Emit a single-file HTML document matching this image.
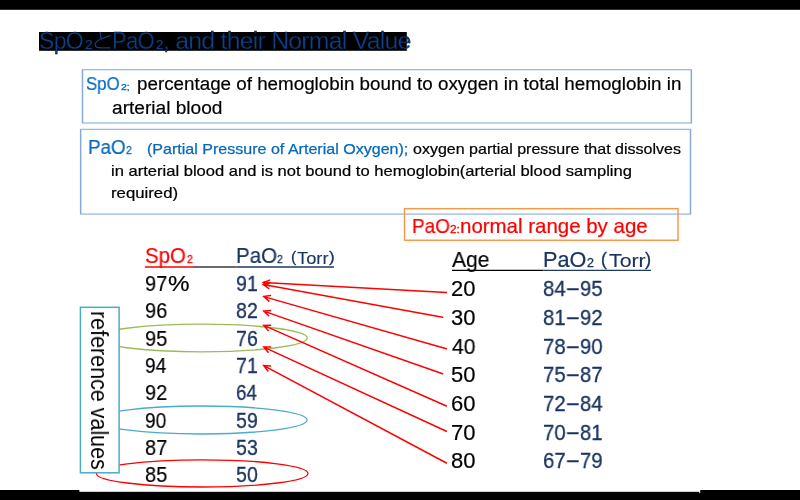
<!DOCTYPE html>
<html><head><meta charset="utf-8"><title>SpO2 and PaO2</title>
<style>
html,body{margin:0;padding:0;background:#fff;}
body{width:800px;height:500px;position:relative;overflow:hidden;font-family:"Liberation Sans",sans-serif;}
.t{position:absolute;white-space:nowrap;line-height:1;transform-origin:0 0;-webkit-text-stroke:0.2px;will-change:transform;}
svg{position:absolute;left:0;top:0;}
</style></head><body>
<svg width="800" height="500" viewBox="0 0 800 500" fill="none">
<g fill="#000">
<rect x="0" y="0" width="800" height="9.8"/>
<rect x="0" y="490" width="79.4" height="10"/>
<rect x="79" y="491.8" width="620.3" height="8.2"/>
<rect x="699" y="493.2" width="2" height="6.8"/>
<rect x="700.2" y="490" width="99.8" height="10"/>
<rect x="39" y="32" width="367.8" height="18.8"/>
</g>
<g stroke="#9ab8e1" stroke-width="1.3">
<rect x="82.5" y="69.7" width="608.9" height="53.3"/>
<rect x="80.6" y="129.4" width="609.9" height="84.7"/>
</g>
<g stroke="#86abdb" stroke-width="1.3">
<path d="M82.5 69.7V123M691.4 69.7V123M80.6 129.4V214.1M690.5 129.4V214.1"/>
</g>
<rect x="404.5" y="208.65" width="273.5" height="31.6" stroke="#f79646" stroke-width="1.4"/>
<g stroke-width="1.3">
<ellipse cx="201.5" cy="338" rx="105.8" ry="13.8" stroke="#9bbb59"/>
<ellipse cx="201.3" cy="420" rx="105.8" ry="14" stroke="#4bacc6"/>
<ellipse cx="202.2" cy="473.4" rx="105.8" ry="13.6" stroke="#ff0000"/>
</g>
<rect x="80.4" y="307.3" width="38.7" height="165.5" fill="#fff" stroke="#4bacc6" stroke-width="1.5"/>
<g stroke="#ff0000" stroke-width="1.5" stroke-linecap="round" stroke-linejoin="miter">
<path d="M446.4 292.4L263.3 282.6M269.3 285.8L263.3 282.6L269.6 280.1"/>
<path d="M442.6 317.3L263.3 284.6M268.8 288.5L263.3 284.6L269.9 282.9"/>
<path d="M446.4 348.7L263.8 296.6M268.9 301.1L263.8 296.6L270.5 295.5"/>
<path d="M442.6 373.7L263.8 311.1M268.7 315.8L263.8 311.1L270.6 310.4"/>
<path d="M446.4 406.0L263.8 325.4M268.3 330.5L263.8 325.4L270.6 325.3"/>
<path d="M446.4 431.2L263.8 347.1M268.2 352.3L263.8 347.1L270.6 347.1"/>
<path d="M446.4 463.0L263.8 365.6M267.9 371.0L263.8 365.6L270.6 366.0"/>
</g>
<g stroke-width="1.6">
<path d="M144.8 267H193" stroke="#ff0000"/>
<path d="M193 267H236.7" stroke="#3a3a3a"/>
<path d="M236.7 267H334" stroke="#1f3864"/>
<path d="M452 270.3H543.5" stroke="#000" stroke-width="1.3"/>
<path d="M543.5 270.4H651" stroke="#1f3864" stroke-width="1.4"/>
</g>
<path d="M100.2 32.4L101 39M110 35.6L101 39C97 40.6 95 43 95.3 45.4C95.6 47.5 97.5 47.9 100.5 47.9L110 47.9" stroke="#0c4089" stroke-width="1.25" stroke-linecap="round" stroke-linejoin="round"/>
</svg>

<span class="t" id="ti1" style="left:39.00px;top:30.00px;font-size:23px;color:#0c4089;transform:scaleX(1.0007);-webkit-text-stroke:0.3px #000;letter-spacing:-0.7px;">SpO</span>
<span class="t" id="ti1s" style="left:84.60px;top:38.00px;font-size:13px;color:#0c4089;transform:scaleX(1.0638);-webkit-text-stroke:0.25px;">2</span>
<span class="t" id="ti2" style="left:112.00px;top:30.00px;font-size:23px;color:#0c4089;transform:scaleX(0.9548);-webkit-text-stroke:0.3px #000;letter-spacing:-0.7px;">PaO</span>
<span class="t" id="ti2s" style="left:156.00px;top:38.00px;font-size:13px;color:#0c4089;transform:scaleX(1.0069);-webkit-text-stroke:0.25px;">2</span>
<span class="t" id="ti3" style="left:163.00px;top:30.00px;font-size:23px;color:#0c4089;transform:scaleX(1.0784);-webkit-text-stroke:0.3px #000;letter-spacing:-0.7px;">, and their Normal Value</span>
<span class="t" id="b1a" style="left:86.20px;top:76.00px;font-size:17.8px;color:#0569be;transform:scaleX(0.9467);">SpO</span>
<span class="t" id="b1as" style="left:120.60px;top:82.00px;font-size:9.75px;color:#0569be;transform:scaleX(1.0805);-webkit-text-stroke:0.3px;">2;</span>
<span class="t" id="b1b" style="left:137.00px;top:75.00px;font-size:18px;color:#000;transform:scaleX(1.0441);-webkit-text-stroke:0.2px;">percentage of hemoglobin bound to oxygen in total hemoglobin in</span>
<span class="t" id="b1c" style="left:111.60px;top:99.00px;font-size:18px;color:#000;transform:scaleX(1.0616);-webkit-text-stroke:0.2px;">arterial blood</span>
<span class="t" id="b2a" style="left:88.20px;top:138.00px;font-size:19.5px;color:#0569be;transform:scaleX(0.9666);">PaO</span>
<span class="t" id="b2as" style="left:126.20px;top:145.00px;font-size:11px;color:#0569be;transform:scaleX(0.9448);-webkit-text-stroke:0.3px;">2</span>
<span class="t" id="b2b" style="left:147.00px;top:141.00px;font-size:15px;color:#0569be;transform:scaleX(1.0697);-webkit-text-stroke:0.25px;">(Partial Pressure of Arterial Oxygen);</span>
<span class="t" id="b2c" style="left:413.00px;top:141.00px;font-size:15px;color:#000;transform:scaleX(1.0677);-webkit-text-stroke:0.22px;">oxygen partial pressure that dissolves</span>
<span class="t" id="b2d" style="left:111.00px;top:163.00px;font-size:15px;color:#000;transform:scaleX(1.1038);-webkit-text-stroke:0.22px;">in arterial blood and is not bound to hemoglobin(arterial blood sampling</span>
<span class="t" id="b2e" style="left:111.00px;top:185.00px;font-size:15px;color:#000;transform:scaleX(1.1173);-webkit-text-stroke:0.22px;">required)</span>
<span class="t" id="or1" style="left:412.20px;top:217.00px;font-size:19.8px;color:#ff0000;transform:scaleX(0.9570);-webkit-text-stroke:0.22px;">PaO</span>
<span class="t" id="or1s" style="left:450.00px;top:224.00px;font-size:11px;color:#ff0000;transform:scaleX(1.0710);-webkit-text-stroke:0.3px;">2:</span>
<span class="t" id="or2" style="left:460.00px;top:217.00px;font-size:19.8px;color:#ff0000;transform:scaleX(1.0343);-webkit-text-stroke:0.22px;">normal range by age</span>
<span class="t" id="lh1" style="left:144.80px;top:246.00px;font-size:21.25px;color:#ff0000;transform:scaleX(0.9598);">SpO</span>
<span class="t" id="lh1s" style="left:187.20px;top:254.00px;font-size:11.5px;color:#ff0000;transform:scaleX(0.9157);-webkit-text-stroke:0.3px;">2</span>
<span class="t" id="lh2" style="left:236.40px;top:246.00px;font-size:21.25px;color:#1a3360;transform:scaleX(0.9658);">PaO</span>
<span class="t" id="lh2s" style="left:277.00px;top:254.00px;font-size:11.5px;color:#1a3360;transform:scaleX(0.9157);-webkit-text-stroke:0.3px;">2</span>
<span class="t" id="lh3" style="left:291.00px;top:249.00px;font-size:15.4px;color:#1a3360;transform:scaleX(1.0252);-webkit-text-stroke:0.3px;">(</span>
<span class="t" id="lh4" style="left:297.20px;top:251.00px;font-size:16px;color:#1a3360;transform:scaleX(1.1434);-webkit-text-stroke:0.1px;">Torr</span>
<span class="t" id="lh5" style="left:328.60px;top:249.00px;font-size:15.4px;color:#1a3360;transform:scaleX(1.1066);-webkit-text-stroke:0.3px;">)</span>
<span class="t" id="ls0" style="left:144.80px;top:274.00px;font-size:21.5px;color:#000;transform:scaleX(0.9310);">97</span>
<span class="t" id="lp0" style="left:235.80px;top:274.00px;font-size:21.5px;color:#1a3360;transform:scaleX(0.9128);-webkit-text-stroke:0.3px;">91</span>
<span class="t" id="ls1" style="left:144.80px;top:301.00px;font-size:21.5px;color:#000;transform:scaleX(0.9310);">96</span>
<span class="t" id="lp1" style="left:235.80px;top:301.00px;font-size:21.5px;color:#1a3360;transform:scaleX(0.9128);-webkit-text-stroke:0.3px;">82</span>
<span class="t" id="ls2" style="left:144.80px;top:329.00px;font-size:21.5px;color:#000;transform:scaleX(0.9310);">95</span>
<span class="t" id="lp2" style="left:235.80px;top:329.00px;font-size:21.5px;color:#1a3360;transform:scaleX(0.9128);-webkit-text-stroke:0.3px;">76</span>
<span class="t" id="ls3" style="left:144.80px;top:356.00px;font-size:21.5px;color:#000;transform:scaleX(0.8867);">94</span>
<span class="t" id="lp3" style="left:235.80px;top:356.00px;font-size:21.5px;color:#1a3360;transform:scaleX(0.9128);-webkit-text-stroke:0.3px;">71</span>
<span class="t" id="ls4" style="left:144.80px;top:383.00px;font-size:21.5px;color:#000;transform:scaleX(0.9310);">92</span>
<span class="t" id="lp4" style="left:235.80px;top:383.00px;font-size:21.5px;color:#1a3360;transform:scaleX(0.8693);-webkit-text-stroke:0.3px;">64</span>
<span class="t" id="ls5" style="left:144.80px;top:411.00px;font-size:21.5px;color:#000;transform:scaleX(0.8867);">90</span>
<span class="t" id="lp5" style="left:235.80px;top:411.00px;font-size:21.5px;color:#1a3360;transform:scaleX(0.9128);-webkit-text-stroke:0.3px;">59</span>
<span class="t" id="ls6" style="left:144.80px;top:438.00px;font-size:21.5px;color:#000;transform:scaleX(0.9310);">87</span>
<span class="t" id="lp6" style="left:235.80px;top:438.00px;font-size:21.5px;color:#1a3360;transform:scaleX(0.9128);-webkit-text-stroke:0.3px;">53</span>
<span class="t" id="ls7" style="left:144.80px;top:465.00px;font-size:21.5px;color:#000;transform:scaleX(0.9310);">85</span>
<span class="t" id="lp7" style="left:235.80px;top:465.00px;font-size:21.5px;color:#1a3360;transform:scaleX(0.9128);-webkit-text-stroke:0.3px;">50</span>
<span class="t" id="pct" style="left:168.00px;top:274.00px;font-size:21.5px;color:#000;transform:scaleX(1.1283);">%</span>
<span class="t" id="rh1" style="left:452.00px;top:249.00px;font-size:22.5px;color:#000;transform:scaleX(0.9355);">Age</span>
<span class="t" id="rh2" style="left:542.60px;top:250.00px;font-size:21.5px;color:#1a3360;transform:scaleX(1.0062);">PaO</span>
<span class="t" id="rh2s" style="left:587.20px;top:257.00px;font-size:12.5px;color:#1a3360;-webkit-text-stroke:0.3px;">2</span>
<span class="t" id="rh3" style="left:601.40px;top:251.00px;font-size:17.5px;color:#1a3360;transform:scaleX(0.9608);-webkit-text-stroke:0.3px;">(</span>
<span class="t" id="rh4" style="left:608.60px;top:253.00px;font-size:17.75px;color:#1a3360;transform:scaleX(1.2005);-webkit-text-stroke:0.1px;">Torr</span>
<span class="t" id="rh5" style="left:645.20px;top:251.00px;font-size:17.5px;color:#1a3360;transform:scaleX(1.0521);-webkit-text-stroke:0.3px;">)</span>
<span class="t" id="ra0" style="left:451.00px;top:279.00px;font-size:21.5px;color:#000;transform:scaleX(1.0229);">20</span>
<span class="t" id="rr0" style="left:543.20px;top:279.00px;font-size:21.5px;color:#1a3360;transform:scaleX(0.9466);-webkit-text-stroke:0.3px;">84<span style="padding:0 1.6px;position:relative;top:-0.8px">–</span>95</span>
<span class="t" id="ra1" style="left:451.00px;top:308.00px;font-size:21.5px;color:#000;transform:scaleX(1.0229);">30</span>
<span class="t" id="rr1" style="left:543.20px;top:308.00px;font-size:21.5px;color:#1a3360;transform:scaleX(0.9466);-webkit-text-stroke:0.3px;">81<span style="padding:0 1.6px;position:relative;top:-0.8px">–</span>92</span>
<span class="t" id="ra2" style="left:452.00px;top:337.00px;font-size:21.5px;color:#000;transform:scaleX(0.9764);">40</span>
<span class="t" id="rr2" style="left:543.20px;top:337.00px;font-size:21.5px;color:#1a3360;transform:scaleX(0.9466);-webkit-text-stroke:0.3px;">78<span style="padding:0 1.6px;position:relative;top:-0.8px">–</span>90</span>
<span class="t" id="ra3" style="left:451.00px;top:365.00px;font-size:21.5px;color:#000;transform:scaleX(1.0229);">50</span>
<span class="t" id="rr3" style="left:543.20px;top:365.00px;font-size:21.5px;color:#1a3360;transform:scaleX(0.9466);-webkit-text-stroke:0.3px;">75<span style="padding:0 1.6px;position:relative;top:-0.8px">–</span>87</span>
<span class="t" id="ra4" style="left:451.00px;top:394.00px;font-size:21.5px;color:#000;transform:scaleX(1.0229);">60</span>
<span class="t" id="rr4" style="left:543.20px;top:394.00px;font-size:21.5px;color:#1a3360;transform:scaleX(0.9466);-webkit-text-stroke:0.3px;">72<span style="padding:0 1.6px;position:relative;top:-0.8px">–</span>84</span>
<span class="t" id="ra5" style="left:451.00px;top:423.00px;font-size:21.5px;color:#000;transform:scaleX(1.0229);">70</span>
<span class="t" id="rr5" style="left:543.20px;top:423.00px;font-size:21.5px;color:#1a3360;transform:scaleX(0.9466);-webkit-text-stroke:0.3px;">70<span style="padding:0 1.6px;position:relative;top:-0.8px">–</span>81</span>
<span class="t" id="ra6" style="left:451.00px;top:451.00px;font-size:21.5px;color:#000;transform:scaleX(1.0229);">80</span>
<span class="t" id="rr6" style="left:543.20px;top:451.00px;font-size:21.5px;color:#1a3360;transform:scaleX(0.9466);-webkit-text-stroke:0.3px;">67<span style="padding:0 1.6px;position:relative;top:-0.8px">–</span>79</span>
<span class="t" id="ref" style="left:109.5px;top:310.90px;font-size:23.5px;color:#000;-webkit-text-stroke:0;transform:rotate(90deg) scaleX(0.9140);">reference values</span>
</body></html>
